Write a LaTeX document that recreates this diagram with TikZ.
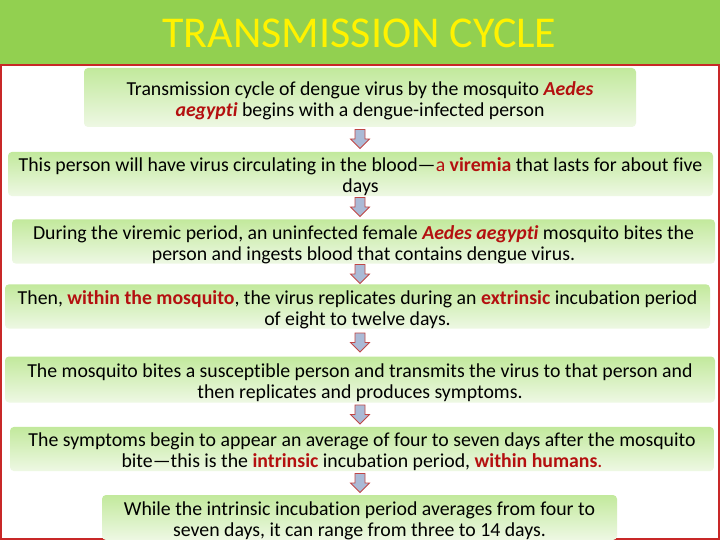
\documentclass[tikz,border=0pt]{standalone}
\usepackage{fontspec}
\setmainfont[Ligatures=NoCommon]{Carlito}
\definecolor{titlegreen}{RGB}{146,208,80}
\definecolor{framered}{RGB}{200,40,40}
\definecolor{kwred}{RGB}{180,16,16}
\definecolor{boxtop}{RGB}{194,233,156}
\definecolor{boxbot}{RGB}{238,248,228}
\definecolor{arrowfill}{RGB}{170,186,214}
\definecolor{arrowline}{RGB}{192,70,70}
\newcommand{\kw}[1]{\textcolor{kwred}{\textbf{#1}}}
\newcommand{\dn}{\rule{0pt}{20pt}}
\tikzset{
  stepbox/.style={rounded corners=4pt, top color=boxtop, bottom color=boxbot, draw=none,
    align=center, inner sep=0pt, font=\fontsize{19.8}{21}\selectfont},
  downarrow/.pic={
    \draw[draw=arrowline, fill=arrowfill, line width=0.8pt, line join=miter]
      (-5,-9.5) -- (5,-9.5) -- (5,0) -- (9.5,0) -- (0,9.5) -- (-9.5,0) -- (-5,0) -- cycle;
  }
}
\begin{document}
\begin{tikzpicture}[x=1pt,y=-1pt]
\useasboundingbox (0,0) rectangle (720,540);
\fill[white] (0,0) rectangle (720,540);
\fill[titlegreen] (0,0) rectangle (720,65);
\node[font=\fontsize{44}{46}\selectfont, text=yellow] (title) at (359.5,33.5) {TRANSMISSION CYCLE};
\draw[framered, line width=1.6pt] (1,65) rectangle (719,539.2);

\node[stepbox, minimum width=552pt, minimum height=59pt] (b1) at (360,97.5)
  {\dn Transmission cycle of dengue virus by the mosquito \kw{\textit{Aedes}}\\ \kw{\textit{aegypti}} begins with a dengue-infected person};
\node[stepbox, minimum width=705pt, minimum height=43pt] (b2) at (360.5,174)
  {\dn This person will have virus circulating in the blood—\textcolor{kwred}{a} \kw{viremia} that lasts for about five\\ days};
\node[stepbox, minimum width=703pt, minimum height=42pt] (b3) at (363.5,241.5)
  {\dn During the viremic period, an uninfected female \kw{\textit{Aedes aegypti}} mosquito bites the\\ person and ingests blood that contains dengue virus.};
\node[stepbox, minimum width=705pt, minimum height=40pt] (b4) at (357.5,306.5)
  {\dn Then, \kw{within the mosquito}, the virus replicates during an \kw{extrinsic} incubation period\\ of eight to twelve days.};
\node[stepbox, minimum width=710pt, minimum height=46pt] (b5) at (360,379.5)
  {\dn The mosquito bites a susceptible person and transmits the virus to that person and\\ then replicates and produces symptoms.};
\node[stepbox, minimum width=704pt, minimum height=43pt] (b6) at (362,449)
  {\dn The symptoms begin to appear an average of four to seven days after the mosquito\\ bite—this is the \kw{intrinsic} incubation period, \kw{within humans}\textcolor{kwred}{.}};
\node[stepbox, minimum width=515pt, minimum height=45pt] (b7) at (359.5,517.5)
  {\dn While the intrinsic incubation period averages from four to\\ seven days, it can range from three to 14 days.};

\coordinate (a1) at (360,139);
\coordinate (a2) at (360,207);
\coordinate (a3) at (360,274);
\coordinate (a4) at (360,342.5);
\coordinate (a5) at (360,414.5);
\coordinate (a6) at (360,483);
\foreach \a in {a1,a2,a3,a4,a5,a6} { \pic at (\a) {downarrow}; }
\end{tikzpicture}
\end{document}
